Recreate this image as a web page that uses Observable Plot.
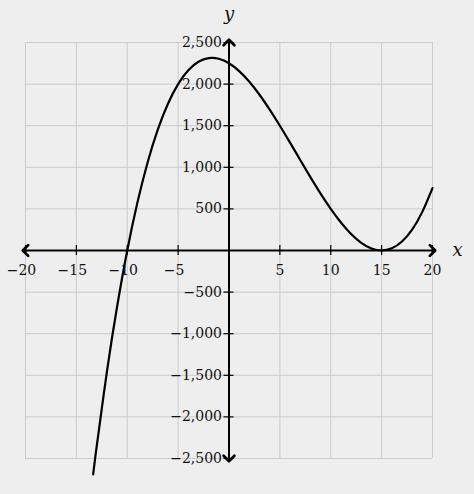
<!DOCTYPE html>
<html><head><meta charset="utf-8">
<script src="https://cdn.jsdelivr.net/npm/d3@7"></script>
<script src="https://cdn.jsdelivr.net/npm/@observablehq/plot@0.6"></script>
<style>
html,body{margin:0;padding:0;background:#eeeeee;}
#chart svg{display:block;background:#eeeeee;}
</style></head>
<body><div id="chart"></div>
<script>
// curve samples
const curveX = [-13.35,-13,-12,-11,-10,-9,-8,-7,-6,-5,-4,-3,-2,-1,0,1,2,3,4,5,6,7,8,9,10,11,12,13,14,15,16,17,18,19,20];
const curveY = [-2692,-2352,-1458,-676,0,576,1058,1452,1764,2000,2166,2268,2312,2304,2250,2156,2028,1872,1694,1500,1296,1088,882,684,500,336,198,92,24,0,26,108,252,464,750];
const gridX = [-20,-15,-10,-5,0,5,10,15,20];
const gridY = [-2500,-2000,-1500,-1000,-500,0,500,1000,1500,2000,2500];
const xTickLabels = [-20,-15,-10,-5,5,10,15,20];
const yTickLabels = [-2500,-2000,-1500,-1000,-500,500,1000,1500,2000,2500];
const xDomain = [-20,20];
const yDomain = [-2500,2500];

const pts = curveX.map((x,i)=>({x, y: curveY[i]}));
const fmt = d3.format(",");
const font = "DejaVu Serif";
const ends = [
  {x1: -19.9, x2: -20, y1: 0, y2: 0},
  {x1: 19.9, x2: 20, y1: 0, y2: 0},
  {x1: 0, x2: 0, y1: -2490, y2: -2500},
  {x1: 0, x2: 0, y1: 2490, y2: 2500}
];

const chart = Plot.plot({
  width: 474, height: 494,
  marginLeft: 25, marginRight: 42, marginTop: 42, marginBottom: 36,
  x: {domain: xDomain, axis: null},
  y: {domain: yDomain, axis: null},
  style: {background: "#eeeeee", fontFamily: font},
  marks: [
    Plot.ruleX(gridX, {y1: yDomain[0], y2: yDomain[1], stroke: "#cbcbcb", strokeWidth: 1}),
    Plot.ruleY(gridY, {x1: xDomain[0], x2: xDomain[1], stroke: "#cbcbcb", strokeWidth: 1}),
    Plot.ruleY([0], {x1: xDomain[0], x2: xDomain[1], stroke: "black", strokeWidth: 2}),
    Plot.ruleX([0], {y1: yDomain[0], y2: yDomain[1], stroke: "black", strokeWidth: 2}),
    Plot.link(ends, {x1: "x1", x2: "x2", y1: "y1", y2: "y2", stroke: "black", strokeWidth: 2.7, markerEnd: "arrow"}),
    Plot.ruleX(xTickLabels, {y1: 0, y2: 0, insetTop: -5, insetBottom: -5, stroke: "black", strokeWidth: 1.2}),
    Plot.ruleY(yTickLabels, {x1: 0, x2: 0, insetLeft: -5, insetRight: -5, stroke: "black", strokeWidth: 1.2}),
    Plot.line(pts, {x: "x", y: "y", curve: "natural", stroke: "black", strokeWidth: 2.2}),
    Plot.text(xTickLabels.filter(d => d > 0), {x: d => d, y: 0, text: d => fmt(d), dy: 20, fontSize: 14, fontFamily: font, fill: "#111"}),
    Plot.text(xTickLabels.filter(d => d < 0), {x: d => d, y: 0, text: d => fmt(d), dy: 20, dx: -4, fontSize: 14, fontFamily: font, fill: "#111"}),
    Plot.text(yTickLabels, {x: 0, y: d => d, text: d => fmt(d), textAnchor: "end", dx: -7, fontSize: 14, fontFamily: font, fill: "#111"}),
    Plot.text(["x"], {x: xDomain[1], y: 0, text: d => d, dx: 25, fontSize: 18, fontFamily: font, fontStyle: "italic", fill: "#111"}),
    Plot.text(["y"], {x: 0, y: yDomain[1], text: d => d, dy: -28, fontSize: 18, fontFamily: font, fontStyle: "italic", fill: "#111"})
  ]
});
document.getElementById("chart").appendChild(chart);
</script>
</body></html>
